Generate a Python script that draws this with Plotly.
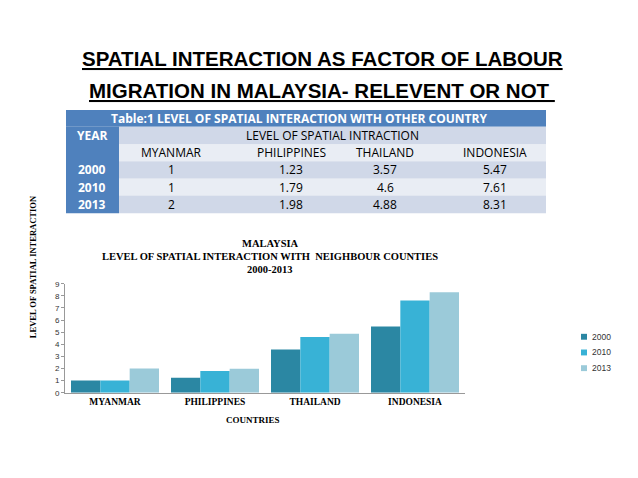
import plotly.graph_objects as go

countries = ["MYANMAR", "PHILIPPINES", "THAILAND", "INDONESIA"]
years = ["2000", "2010", "2013"]
v2000 = [1, 1.23, 3.57, 5.47]
v2010 = [1, 1.79, 4.6, 7.61]
v2013 = [2, 1.98, 4.88, 8.31]
table_text = [["1", "1.23", "3.57", "5.47"], ["1", "1.79", "4.6", "7.61"], ["2", "1.98", "4.88", "8.31"]]
colors = ["#2B87A3", "#38B2D6", "#9BCAD9"]

W, H = 638, 478
def px(x): return x / W
def py(y): return 1 - y / H

fig = go.Figure()
for yr, vals, c in zip(years, [v2000, v2010, v2013], colors):
    fig.add_trace(go.Bar(x=countries, y=vals, name=yr, marker=dict(color=c, line=dict(width=0))))

shapes, ann = [], []
def rect(x0, y0, x1, y1, color, layer="below"):
    shapes.append(dict(type="rect", xref="paper", yref="paper", x0=px(x0), x1=px(x1),
                       y0=py(y1), y1=py(y0), fillcolor=color, line=dict(width=0), layer=layer))
def text(x, y, s, size=11, color="black", bold=False, family="Open Sans, sans-serif", xa="center"):
    ann.append(dict(xref="paper", yref="paper", x=px(x), y=py(y), text=f"<b>{s}</b>" if bold else s,
                    showarrow=False, font=dict(size=size, color=color, family=family), xanchor=xa, yanchor="middle"))

# title
text(314, 47, "<u>SPATIAL INTERACTION AS FACTOR OF LABOUR</u>", 20.5, bold=True, family="Liberation Sans, sans-serif")
text(314, 80, "<u>MIGRATION IN MALAYSIA- RELEVENT OR NOT </u>", 20.5, bold=True, family="Liberation Sans, sans-serif")

# table
rows = [100, 117, 135, 152, 170, 187, 205]
blue = "#4F81BD"
rect(58, rows[0], 538, rows[1], blue)
rect(58, rows[1], 111, rows[6], blue)
light = ["#D0D8E8", "#E9EDF4"]
for i in range(1, 6):
    rect(111, rows[i], 538, rows[i + 1], light[(i + 1) % 2])
mid = lambda i: (rows[i] + rows[i + 1]) / 2
ts = 12
text(291, mid(0), "Table:1 LEVEL OF SPATIAL INTERACTION WITH OTHER COUNTRY", ts, "white", True)
text(84, mid(1), "YEAR", ts, "white", True)
text(324, mid(1), "LEVEL OF SPATIAL INTRACTION", ts)
cx = [163, 283, 377, 487]
for c, name in zip(cx, countries):
    text(c, mid(2), name, ts)
for r, (yr, vals) in enumerate(zip(years, table_text)):
    text(84, mid(3 + r), yr, ts, "white", True)
    for c, v in zip(cx, vals):
        text(c, mid(3 + r), v, ts)

serif = "Liberation Serif, Times New Roman, serif"
text(262, 236, "MALAYSIA", 10.5, bold=True, family=serif)
text(262, 249, "LEVEL OF SPATIAL INTERACTION WITH  NEIGHBOUR COUNTIES", 10.5, bold=True, family=serif)
text(262, 262, "2000-2013", 10.5, bold=True, family=serif)
text(245, 416, "COUNTRIES", 9, bold=True, family=serif)
ann.append(dict(xref="paper", yref="paper", x=px(18), y=py(335), text="<b>LEVEL OF SPATIAL INTERACTION</b>",
                textangle=-90, showarrow=False, font=dict(size=8.5, family=serif, color="black")))

# legend drawn manually
for i, (yr, c) in enumerate(zip(years, colors)):
    yc = 331 + i * 16
    rect(573, yc - 3, 579, yc + 3, c, layer="above")
    text(582, yc, yr, 8.5, "#333", family="Liberation Sans, sans-serif", xa="left")

fig.update_layout(
    width=W, height=H, margin=dict(l=0, r=0, t=0, b=0),
    paper_bgcolor="white", plot_bgcolor="white",
    barmode="group", bargap=0.12, bargroupgap=0,
    shapes=shapes, annotations=ann, showlegend=False,
    xaxis=dict(domain=[px(57), px(457)], showline=True, linecolor="#999", ticks="",
               tickfont=dict(size=9.5, family=serif, color="black"), tickprefix="<b>", ticksuffix="</b>"),
    yaxis=dict(domain=[py(388), py(277)], range=[0, 9], dtick=1, showgrid=False, showline=True,
               linecolor="#999", ticks="outside", ticklen=3, tickcolor="#999",
               tickfont=dict(size=8, family="Liberation Sans, sans-serif", color="#333")),
)
fig.write_html("out.html")
